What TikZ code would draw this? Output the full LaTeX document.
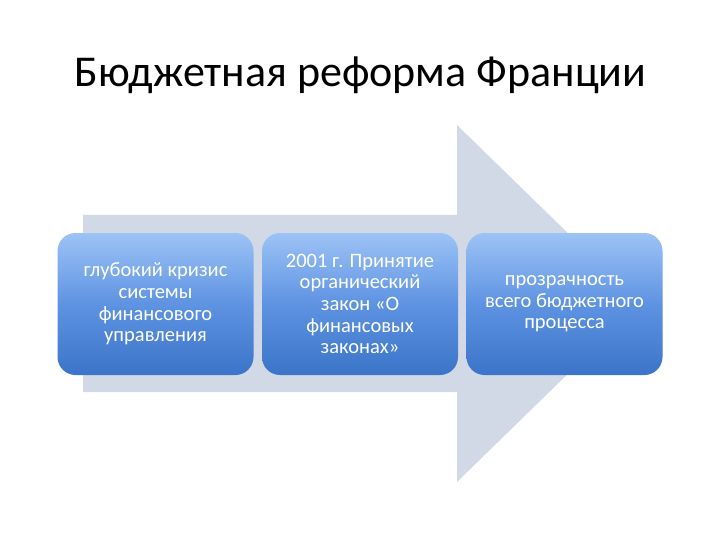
\documentclass[tikz,border=0pt]{standalone}
\usepackage{fontspec}
\setmainfont{Carlito}
\begin{document}
\begin{tikzpicture}[x=1pt,y=-1pt,
  stepbox/.style={rounded corners=18pt, minimum width=196pt, minimum height=142pt,
    inner sep=0pt, align=center, text=white,
    top color=boxtop, bottom color=boxbot, middle color=boxmid,
    font=\fontsize{20.5}{21.7}\selectfont},
  titletext/.style={font=\fontsize{44}{50}\selectfont, text=black}]
\definecolor{boxtop}{HTML}{9DC3F6}
\definecolor{boxmid}{HTML}{5E93E2}
\definecolor{boxbot}{HTML}{3B74C8}
\definecolor{shaft}{HTML}{D2D9E6}
\useasboundingbox (0,0) rectangle (720,540);
\fill[white] (0,0) rectangle (720,540);
\node[titletext, anchor=base] (title) at (360.5,87) {Бюджетная реформа Франции};
\fill[shaft] (83,215) -- (457,215) -- (457,125) -- (640,303.5) -- (457,482)
  -- (457,392) -- (83,392) -- cycle;
\node[stepbox] (b1) at (155.5,304) {глубокий кризис\\системы\\финансового\\управления};
\node[stepbox] (b2) at (360,304) {2001 г. Принятие\\органический\\закон «О\\финансовых\\законах»};
\node[stepbox] (b3) at (564.5,304) {прозрачность\\всего бюджетного\\процесса};
\end{tikzpicture}
\end{document}
